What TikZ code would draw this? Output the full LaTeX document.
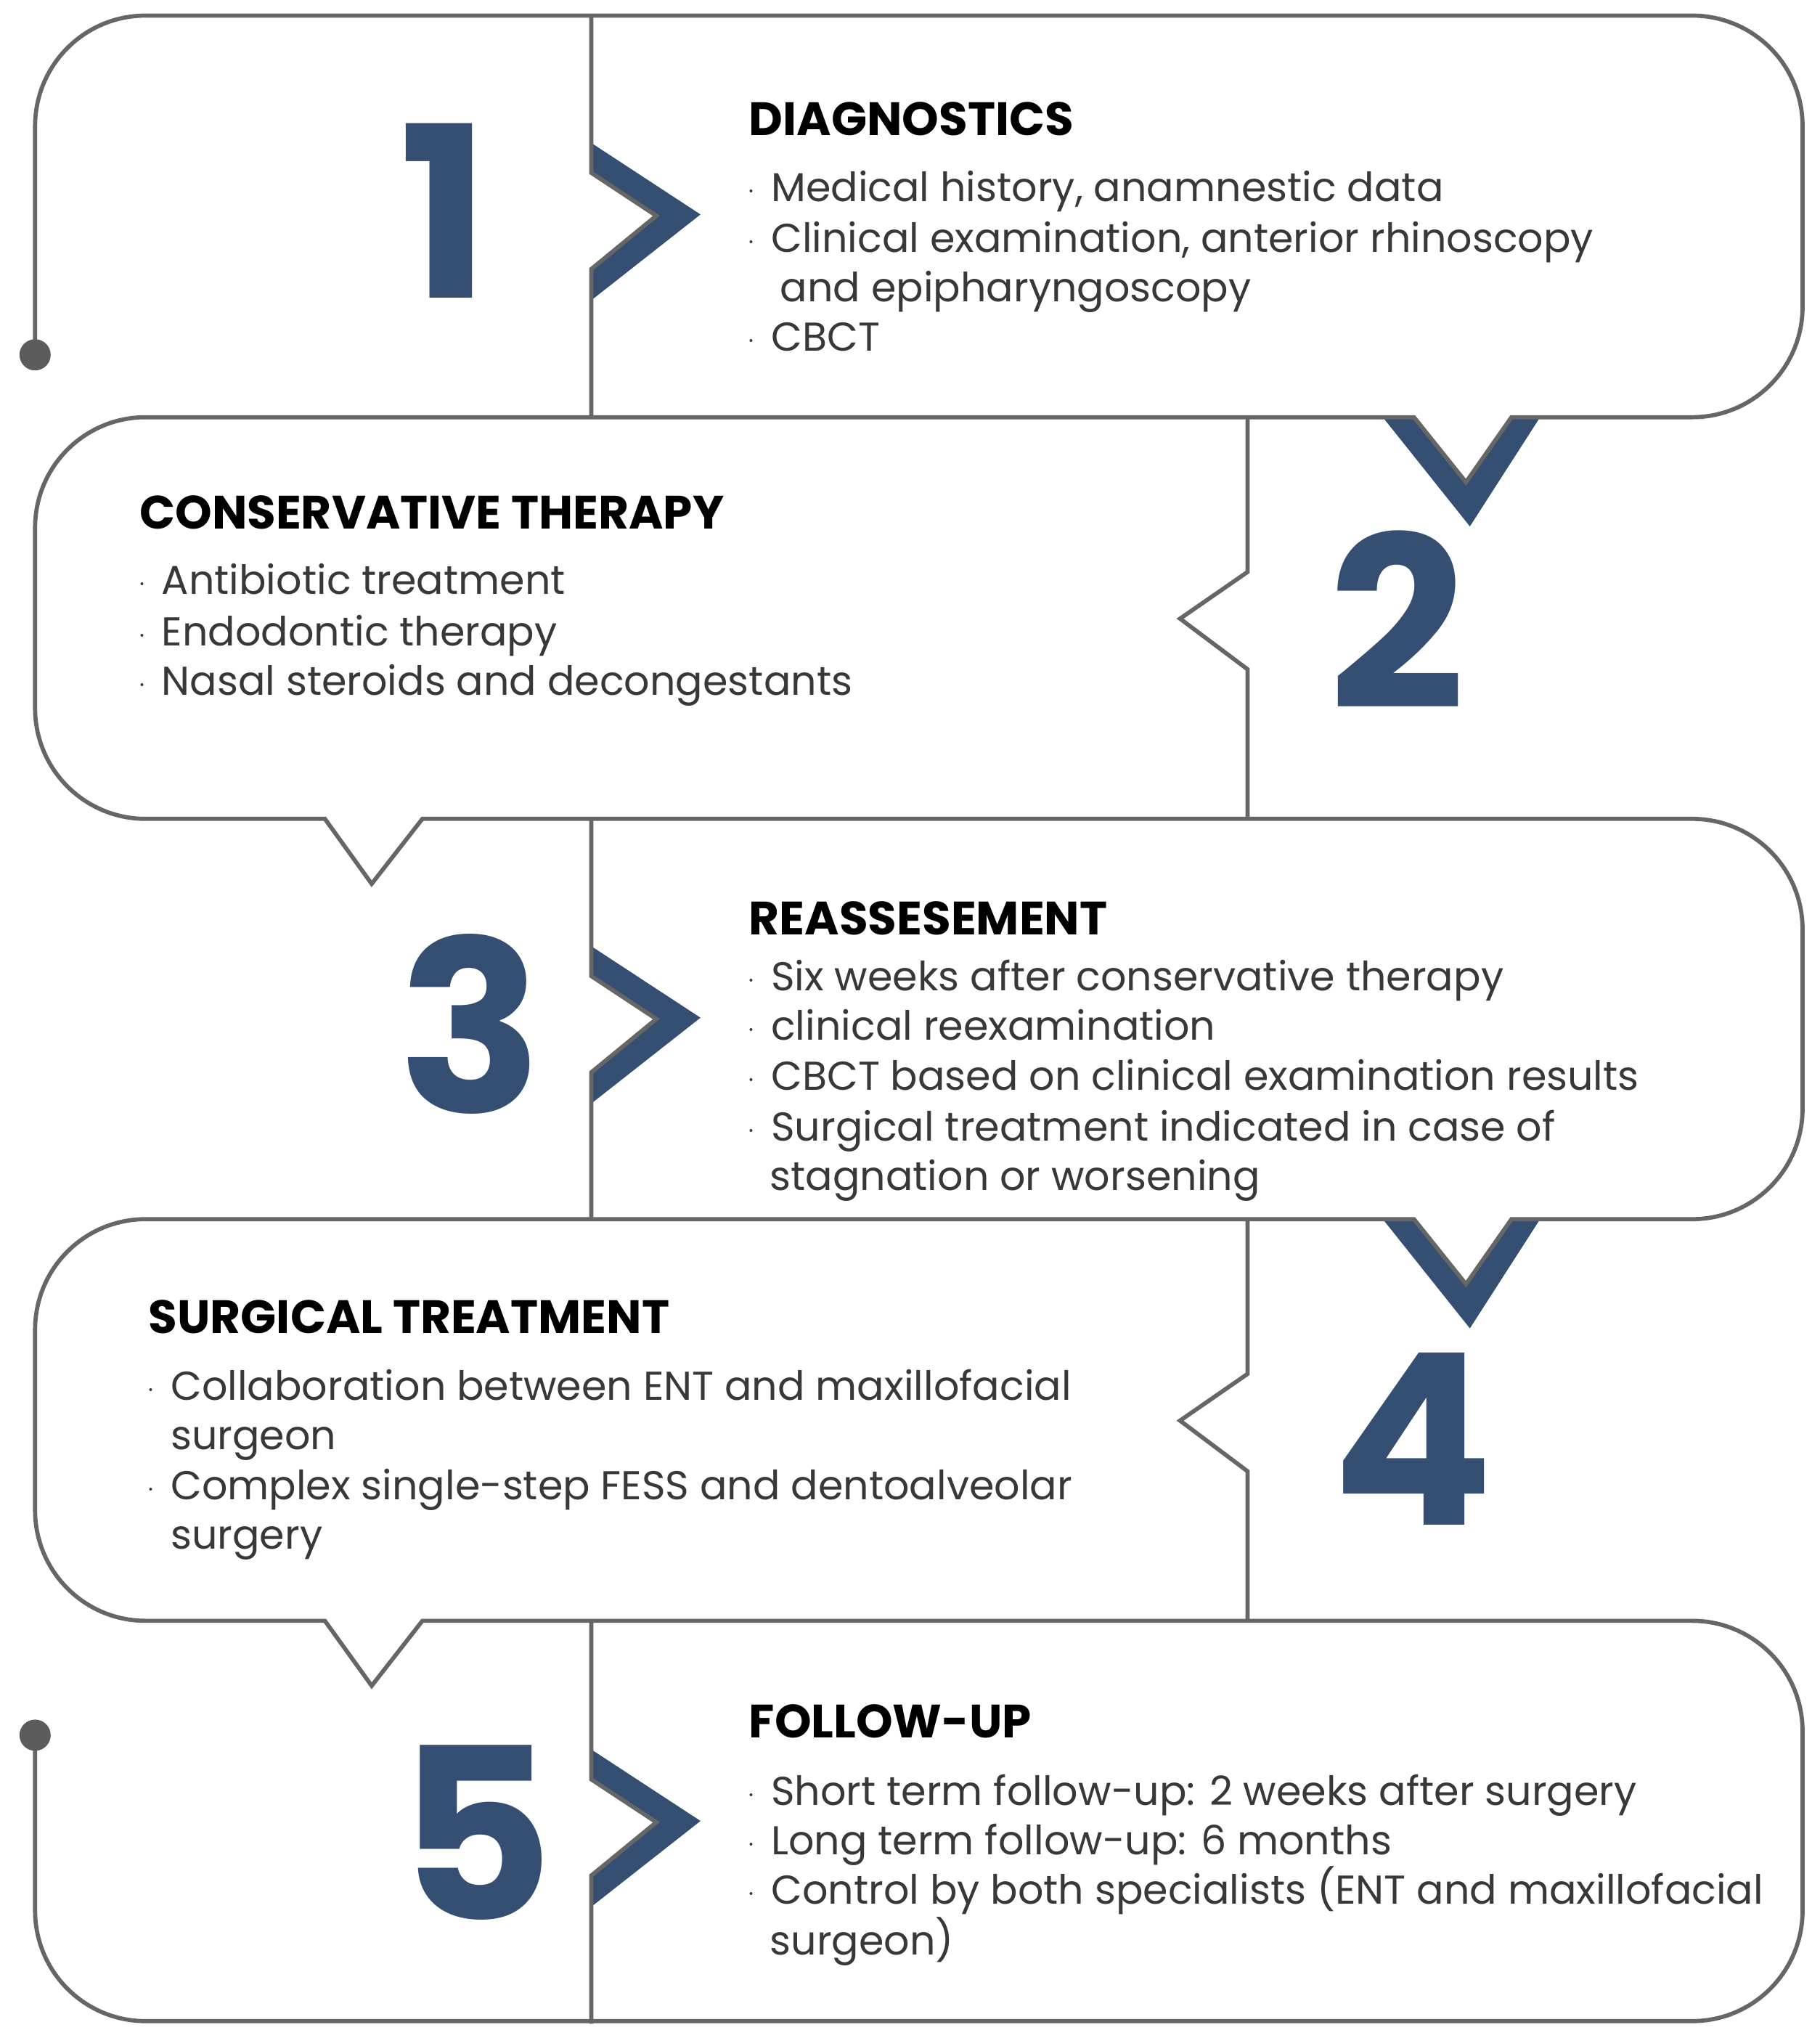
\documentclass[tikz,border=0pt]{standalone}
\usepackage{fontspec}
\setmainfont{Poppins}
\definecolor{navy}{HTML}{354F73}
\definecolor{ln}{HTML}{666666}
\definecolor{txt}{HTML}{383838}
\newcommand{\bodyf}{\fontsize{15.5pt}{19pt}\selectfont}
\newcommand{\headf}{\fontsize{18pt}{20pt}\selectfont\bfseries}
\newcommand{\numf}{\fontsize{92pt}{92pt}\selectfont\bfseries}
\begin{document}
\begin{tikzpicture}[x=0.5pt,y=-0.5pt,
  outl/.style={draw=ln,line width=1.6pt,line join=miter},
  chev/.style={fill=navy},
  num/.style={text=navy,font=\numf,inner sep=0pt},
  head/.style={anchor=base west,inner sep=0pt,font=\headf,text=black},
  bodyl/.style={anchor=base west,inner sep=0pt,font=\bodyf,text=txt}]
\useasboundingbox (0,0) rectangle (1400,1568);
% navy chevrons
\foreach \t in {0,618,1236}{
  \fill[navy] (455,110+\t) -- (539,165+\t) -- (455,231+\t) -- (455,207+\t) -- (505,166+\t) -- (455,133+\t) -- cycle;}
\foreach \t in {0,617}{
  \fill[navy] (1064,321+\t) -- (1131,405+\t) -- (1185,321+\t) -- (1163,321+\t) -- (1128,371+\t) -- (1088,321+\t) -- cycle;}
% main outline
\draw[outl] (27,273) -- (27,97) arc[start angle=180,end angle=270,radius=85] -- (1302,12)
  arc[start angle=-90,end angle=0,radius=85] -- (1387,236) arc[start angle=0,end angle=90,radius=85]
  -- (1163,321) -- (1128,371) -- (1088,321) -- (112,321)
  arc[start angle=270,end angle=180,radius=85] -- (27,545) arc[start angle=180,end angle=90,radius=85]
  -- (250,630) -- (286,680) -- (325,630) -- (1302,630)
  arc[start angle=-90,end angle=0,radius=85] -- (1387,853) arc[start angle=0,end angle=90,radius=85]
  -- (1163,938) -- (1128,988) -- (1088,938) -- (112,938)
  arc[start angle=270,end angle=180,radius=85] -- (27,1162) arc[start angle=180,end angle=90,radius=85]
  -- (250,1247) -- (286,1297) -- (325,1247) -- (1302,1247)
  arc[start angle=-90,end angle=0,radius=85] -- (1387,1470) arc[start angle=0,end angle=90,radius=85]
  -- (112,1555) arc[start angle=90,end angle=180,radius=85] -- (27,1335);
% separators
\foreach \t in {0,618,1236}{
  \draw[outl] (455,12+\t) -- (455,133+\t) -- (505,166+\t) -- (455,207+\t) -- (455,321+\t);}
\foreach \t in {0,617}{
  \draw[outl] (960,321+\t) -- (960,440+\t) -- (908,476+\t) -- (960,515+\t) -- (960,630+\t);}
\fill[ln!90!black] (27,273) circle[radius=12];
\fill[ln!90!black] (27,1335) circle[radius=12];
% numbers
\node[num] (n1) at (342,162) {1};
\node[num] (n2) at (1075,477) {2};
\node[num] (n3) at (362,788) {3};
\node[num] (n4) at (1087,1107) {4};
\node[num] (n5) at (366,1410) {5};
% texts
\newcommand{\bl}[4]{\node[bodyl] (#1) at (#2,#3) {\makebox[8.5pt][l]{\raisebox{0.1ex}{\small·}}#4};}
\newcommand{\cl}[4]{\node[bodyl] (#1) at (#2,#3) {#4};}
\node[head] (h1) at (576,104) {DIAGNOSTICS};
\bl{a1}{576}{155}{Medical history, anamnestic data}
\bl{a2}{576}{194}{Clinical examination, anterior rhinoscopy}
\cl{a3}{600}{232}{and epipharyngoscopy}
\bl{a4}{576}{270}{CBCT}
\node[head] (h2) at (107,407) {CONSERVATIVE THERAPY};
\bl{b1}{107}{457}{Antibiotic treatment}
\bl{b2}{107}{497}{Endodontic therapy}
\bl{b3}{107}{535}{Nasal steroids and decongestants}
\node[head] (h3) at (576,719) {REASSESEMENT};
\bl{c1}{576}{762}{Six weeks after conservative therapy}
\bl{c2}{576}{800}{clinical reexamination}
\bl{c3}{576}{839}{CBCT based on clinical examination results}
\bl{c4}{576}{878}{Surgical treatment indicated in case of}
\cl{c5}{592}{916}{stagnation or worsening}
\node[head] (h4) at (114,1026) {SURGICAL TREATMENT};
\bl{d1}{114}{1077}{Collaboration between ENT and maxillofacial}
\cl{d2}{131}{1115}{surgeon}
\bl{d3}{114}{1154}{Complex single-step FESS and dentoalveolar}
\cl{d4}{131}{1192}{surgery}
\node[head] (h5) at (576,1337) {FOLLOW-UP};
\bl{e1}{576}{1389}{Short term follow-up: 2 weeks after surgery}
\bl{e2}{576}{1427}{Long term follow-up: 6 months}
\bl{e3}{576}{1465}{Control by both specialists (ENT and maxillofacial}
\cl{e4}{592}{1504}{surgeon)}
\end{tikzpicture}
\end{document}
